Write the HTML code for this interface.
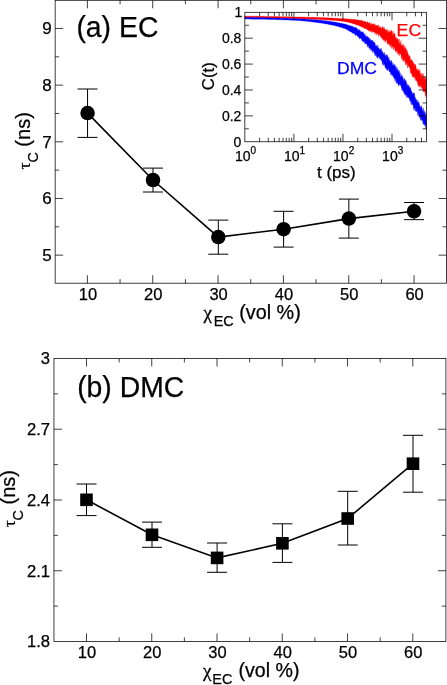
<!DOCTYPE html>
<html><head><meta charset="utf-8"><title>Figure</title>
<style>html,body{margin:0;padding:0;background:#fff}body{width:447px;height:685px;overflow:hidden}svg{display:block}text{font-family:"Liberation Sans",Arial,Helvetica,sans-serif;fill:#000;stroke:#000;stroke-width:0.25px}</style></head><body>
<svg width="447" height="685" viewBox="0 0 447 685">
<rect width="447" height="685" fill="#fff"/>
<g id="panel-a">
<rect x="55.15" y="0.3" width="391.3" height="282.9" fill="none" stroke="#000" stroke-width="0.75"/>
<path d="M87.4 283.2v-8M87.4 0.3v8M152.73 283.2v-8M152.73 0.3v8M218.07 283.2v-8M218.07 0.3v8M283.4 283.2v-8M283.4 0.3v8M348.74 283.2v-8M348.74 0.3v8M414.07 283.2v-8M414.07 0.3v8M120.07 283.2v-4M120.07 0.3v4M185.4 283.2v-4M185.4 0.3v4M250.74 283.2v-4M250.74 0.3v4M316.07 283.2v-4M316.07 0.3v4M381.4 283.2v-4M381.4 0.3v4M55.15 255.15h8M446.45 255.15h-8M55.15 198.48h8M446.45 198.48h-8M55.15 141.81h8M446.45 141.81h-8M55.15 85.14h8M446.45 85.14h-8M55.15 28.47h8M446.45 28.47h-8M55.15 226.81h4M446.45 226.81h-4M55.15 170.15h4M446.45 170.15h-4M55.15 113.47h4M446.45 113.47h-4M55.15 56.81h4M446.45 56.81h-4" fill="none" stroke="#000" stroke-width="0.75"/>
<text x="87.9" y="299.5" font-size="16.5" text-anchor="middle">10</text>
<text x="153.23" y="299.5" font-size="16.5" text-anchor="middle">20</text>
<text x="218.57" y="299.5" font-size="16.5" text-anchor="middle">30</text>
<text x="283.9" y="299.5" font-size="16.5" text-anchor="middle">40</text>
<text x="349.24" y="299.5" font-size="16.5" text-anchor="middle">50</text>
<text x="414.57" y="299.5" font-size="16.5" text-anchor="middle">60</text>
<text x="51.8" y="261.15" font-size="17" text-anchor="end">5</text>
<text x="51.8" y="204.48" font-size="17" text-anchor="end">6</text>
<text x="51.8" y="147.81" font-size="17" text-anchor="end">7</text>
<text x="51.8" y="91.14" font-size="17" text-anchor="end">8</text>
<text x="51.8" y="34.47" font-size="17" text-anchor="end">9</text>
<path d="M87.55 89V137.4M77.55 89h20M77.55 137.4h20M153 168.1V192M143 168.1h20M143 192h20M218.3 220.1V254.2M208.3 220.1h20M208.3 254.2h20M283.6 211.3V247.1M273.6 211.3h20M273.6 247.1h20M348.85 199.1V238.1M338.85 199.1h20M338.85 238.1h20M414.05 202.5V219.65M404.05 202.5h20M404.05 219.65h20" fill="none" stroke="#000" stroke-width="1"/>
<polyline points="87.55,113.1 153,180 218.3,237.1 283.6,229.2 348.85,218.6 414.05,211.25" fill="none" stroke="#000" stroke-width="1.6"/>
<circle cx="87.55" cy="113.1" r="7.25" fill="#000"/>
<circle cx="153" cy="180" r="7.25" fill="#000"/>
<circle cx="218.3" cy="237.1" r="7.25" fill="#000"/>
<circle cx="283.6" cy="229.2" r="7.25" fill="#000"/>
<circle cx="348.85" cy="218.6" r="7.25" fill="#000"/>
<circle cx="414.05" cy="211.25" r="7.25" fill="#000"/>
<text x="76.4" y="37.4" font-size="29" textLength="82" lengthAdjust="spacingAndGlyphs">(a) EC</text>
<text transform="translate(30.2,170.5) rotate(-90)" font-size="20"><tspan x="1.0" font-size="17.5" style="font-family:'Liberation Serif',serif">τ</tspan><tspan x="7.9" font-size="14.4" dy="7.6">C</tspan><tspan dy="-7.6"> (ns)</tspan></text>
<text x="203.4" y="318.6" font-size="20"><tspan font-size="19" stroke="#000" stroke-width="0.3" style="font-family:'Liberation Serif',serif">χ</tspan><tspan x="213.7" font-size="14.4" dy="7.8">EC</tspan><tspan dy="-7.6" font-size="19.8"> (vol %)</tspan></text>
</g>
<g id="inset">
<polygon points="244.85,16.1 245.2,16.11 245.55,16.11 245.9,16.12 246.25,16.12 246.6,16.12 246.95,16.13 247.3,16.13 247.65,16.14 248,16.14 248.35,16.15 248.7,16.15 249.05,16.15 249.4,16.16 249.75,16.16 250.1,16.17 250.45,16.17 250.8,16.18 251.15,16.18 251.5,16.19 251.85,16.19 252.2,16.2 252.55,16.2 252.9,16.2 253.25,16.21 253.6,16.21 253.95,16.22 254.3,16.22 254.65,16.23 255,16.23 255.35,16.24 255.7,16.24 256.05,16.25 256.4,16.25 256.75,16.26 257.1,16.26 257.45,16.27 257.8,16.27 258.15,16.28 258.5,16.28 258.85,16.29 259.2,16.29 259.55,16.3 259.9,16.3 260.25,16.31 260.6,16.31 260.95,16.32 261.3,16.33 261.65,16.33 262,16.34 262.35,16.34 262.7,16.35 263.05,16.35 263.4,16.36 263.75,16.36 264.1,16.37 264.45,16.37 264.8,16.38 265.15,16.39 265.5,16.39 265.85,16.4 266.2,16.4 266.55,16.41 266.9,16.41 267.25,16.42 267.6,16.42 267.95,16.43 268.3,16.44 268.65,16.44 269,16.45 269.35,16.45 269.7,16.46 270.05,16.46 270.4,16.47 270.75,16.48 271.1,16.48 271.45,16.49 271.8,16.49 272.15,16.5 272.5,16.51 272.85,16.51 273.2,16.52 273.55,16.52 273.9,16.53 274.25,16.54 274.6,16.54 274.95,16.55 275.3,16.55 275.65,16.56 276,16.57 276.35,16.57 276.7,16.58 277.05,16.58 277.4,16.59 277.75,16.6 278.1,16.6 278.45,16.61 278.8,16.62 279.15,16.62 279.5,16.63 279.85,16.63 280.2,16.64 280.55,16.65 280.9,16.65 281.25,16.66 281.6,16.67 281.95,16.67 282.3,16.68 282.65,16.69 283,16.69 283.35,16.7 283.7,16.7 284.05,16.71 284.4,16.72 284.75,16.72 285.1,16.73 285.45,16.74 285.8,16.74 286.15,16.75 286.5,16.76 286.85,16.76 287.2,16.77 287.55,16.78 287.9,16.78 288.25,16.79 288.6,16.8 288.95,16.8 289.3,16.81 289.65,16.82 290,16.82 290.35,16.83 290.7,16.84 291.05,16.84 291.4,16.85 291.75,16.86 292.1,16.86 292.45,16.87 292.8,16.88 293.15,16.88 293.5,16.89 293.85,16.9 294.2,16.9 294.55,16.91 294.9,16.92 295.25,16.92 295.6,16.93 295.95,16.94 296.3,16.94 296.65,16.95 297,16.96 297.35,16.96 297.7,16.97 298.05,16.98 298.4,16.99 298.75,16.99 299.1,17 299.45,17.01 299.8,17.01 300.15,17.02 300.5,17.03 300.85,17.03 301.2,17.04 301.55,17.05 301.9,17.05 302.25,17.06 302.6,17.07 302.95,17.08 303.3,17.08 303.65,17.09 304,17.1 304.35,17.11 304.7,17.11 305.05,17.12 305.4,17.13 305.75,17.14 306.1,17.14 306.45,17.15 306.8,17.16 307.15,17.17 307.5,17.17 307.85,17.18 308.2,17.19 308.55,17.2 308.9,17.21 309.25,17.22 309.6,17.22 309.95,17.23 310.3,17.24 310.65,17.25 311,17.26 311.35,17.27 311.7,17.27 312.05,17.29 312.4,17.29 312.75,17.3 313.1,17.31 313.45,17.32 313.8,17.32 314.15,17.34 314.5,17.35 314.85,17.35 315.2,17.36 315.55,17.38 315.9,17.38 316.25,17.39 316.6,17.4 316.95,17.42 317.3,17.43 317.65,17.44 318,17.44 318.35,17.46 318.7,17.46 319.05,17.48 319.4,17.49 319.75,17.49 320.1,17.51 320.45,17.52 320.8,17.53 321.15,17.54 321.5,17.55 321.85,17.57 322.2,17.58 322.55,17.6 322.9,17.62 323.25,17.62 323.6,17.64 323.95,17.65 324.3,17.65 324.65,17.68 325,17.69 325.35,17.71 325.7,17.71 326.05,17.73 326.4,17.76 326.75,17.76 327.1,17.78 327.45,17.81 327.8,17.81 328.15,17.82 328.5,17.85 328.85,17.86 329.2,17.88 329.55,17.88 329.9,17.91 330.25,17.91 330.6,17.94 330.95,17.97 331.3,17.97 331.65,17.99 332,18.03 332.35,18.05 332.7,18.05 333.05,18.08 333.4,18.09 333.75,18.11 334.1,18.14 334.45,18.13 334.8,18.18 335.15,18.16 335.5,18.22 335.85,18.23 336.2,18.24 336.55,18.27 336.9,18.28 337.25,18.31 337.6,18.3 337.95,18.34 338.3,18.38 338.65,18.4 339,18.38 339.35,18.41 339.7,18.46 340.05,18.45 340.4,18.45 340.75,18.52 341.1,18.52 341.45,18.56 341.8,18.56 342.15,18.59 342.5,18.6 342.85,18.61 343.2,18.68 343.55,18.69 343.9,18.72 344.25,18.75 344.6,18.71 344.95,18.8 345.3,18.82 345.65,18.8 346,18.83 346.35,18.8 346.7,18.9 347.05,18.84 347.4,18.92 347.75,18.88 348.1,18.89 348.45,19 348.8,19.01 349.15,19.07 349.5,19.12 349.85,19.2 350.2,19.01 350.55,19.17 350.9,19.19 351.25,19.24 351.6,19.24 351.95,19.28 352.3,19.42 352.65,19.31 353,19.37 353.35,19.47 353.7,19.25 354.05,19.43 354.4,19.32 354.75,19.36 355.1,19.32 355.45,19.46 355.8,19.5 356.15,19.71 356.5,19.79 356.85,20 357.2,19.83 357.55,20.16 357.9,19.86 358.25,20.17 358.6,20.08 358.95,20.19 359.3,19.95 359.65,20.59 360,20.51 360.35,19.98 360.7,20.43 361.05,20.98 361.4,20.08 361.75,20.43 362.1,21.02 362.45,20.3 362.8,21.25 363.15,21.16 363.5,21.48 363.85,21.36 364.2,22.03 364.55,21.32 364.9,21.77 365.25,21.1 365.6,21.99 365.95,21.9 366.3,22.96 366.65,23.03 367,21.74 367.35,21.67 367.7,21.91 368.05,22.14 368.4,23.29 368.75,23.05 369.1,23.15 369.45,23.12 369.8,22.24 370.15,23.19 370.5,24.67 370.85,24.4 371.2,23.95 371.55,23.16 371.9,25.06 372.25,23.95 372.6,24.57 372.95,23.6 373.3,24.04 373.65,24.21 374,24.46 374.35,23.52 374.7,25.49 375.05,24.16 375.4,25.6 375.75,25.8 376.1,26.19 376.45,25.02 376.8,25.14 377.15,26.81 377.5,25.7 377.85,25.02 378.2,27.74 378.55,24.76 378.9,27.97 379.25,25.99 379.6,26.44 379.95,28.75 380.3,26.9 380.65,28.08 381,27.06 381.35,29.13 381.7,28.52 382.05,27.72 382.4,26.26 382.75,27.52 383.1,28.17 383.45,27.44 383.8,28.64 384.15,27.38 384.5,28.76 384.85,29.06 385.2,29.86 385.55,30.35 385.9,30.45 386.25,29.19 386.6,29.5 386.95,31.67 387.3,29.38 387.65,31.39 388,32.85 388.35,32.71 388.7,31.01 389.05,29.95 389.4,31.78 389.75,32.3 390.1,31.69 390.45,30.91 390.8,31.73 391.15,29.93 391.5,31.28 391.85,30.7 392.2,33.8 392.55,35.7 392.9,31.57 393.25,31.19 393.6,35.5 393.95,33.74 394.3,34.98 394.65,32.96 395,34.03 395.35,37.28 395.7,37.23 396.05,38.99 396.4,40.01 396.75,37.21 397.1,39.02 397.45,38.52 397.8,39.24 398.15,39.06 398.5,42.57 398.85,41.12 399.2,39 399.55,42.36 399.9,44.2 400.25,44.26 400.6,42.92 400.95,40.5 401.3,45.1 401.65,46.21 402,45.62 402.35,44.48 402.7,44.69 403.05,47.06 403.4,44.2 403.75,48.23 404.1,47.21 404.45,45.46 404.8,49.9 405.15,48.16 405.5,47.18 405.85,48.06 406.2,52.17 406.55,49.14 406.9,52.89 407.25,53.59 407.6,50.5 407.95,52.95 408.3,55.42 408.65,54.57 409,57.18 409.35,55.41 409.7,57.37 410.05,55.99 410.4,59.85 410.75,60.53 411.1,59.86 411.45,59.33 411.8,60.13 412.15,62 412.5,60.33 412.85,62.82 413.2,62.34 413.55,63.12 413.9,63.54 414.25,66.6 414.6,63.8 414.95,64.58 415.3,64.68 415.65,64.37 416,66.89 416.35,69.47 416.7,70.22 417.05,68.51 417.4,68.59 417.75,71.35 418.1,70 418.45,70.53 418.8,71.49 419.15,68.89 419.5,73.38 419.85,69.88 420.2,72.63 420.55,75.23 420.9,73.63 421.25,72.94 421.6,75.51 421.95,76.93 422.3,75.81 422.65,73.13 423,78.19 423.35,73.79 423.7,77.97 424.05,79.69 424.4,75.9 424.75,78.48 425.1,79.95 425.45,77.33 425.8,78.18 426.15,77.58 426.4,78.43 426.4,93.12 426.15,94.64 425.8,95.79 425.45,96.56 425.1,92.95 424.75,90.84 424.4,91.98 424.05,89.52 423.7,92.3 423.35,90.54 423,91.22 422.65,88.07 422.3,88.7 421.95,86.24 421.6,85.92 421.25,88.79 420.9,87.52 420.55,86.97 420.2,85.06 419.85,85.09 419.5,87.03 419.15,85.76 418.8,86.61 418.45,85.16 418.1,85.55 417.75,83.69 417.4,82.77 417.05,80.64 416.7,80.01 416.35,81.3 416,80.75 415.65,80.45 415.3,77.12 414.95,79.41 414.6,76.56 414.25,76.97 413.9,76.87 413.55,77.55 413.2,76.88 412.85,76.56 412.5,76.73 412.15,76.55 411.8,74.26 411.45,72.58 411.1,73.62 410.75,73.56 410.4,72.33 410.05,67.99 409.7,68.32 409.35,67 409,66.78 408.65,65.46 408.3,66.22 407.95,67.73 407.6,67.9 407.25,64.33 406.9,64.85 406.55,62.02 406.2,64.76 405.85,61.05 405.5,64.97 405.15,63.31 404.8,59.1 404.45,61.29 404.1,58.51 403.75,61.83 403.4,59.86 403.05,58.63 402.7,60.88 402.35,58.94 402,55.8 401.65,59 401.3,58.21 400.95,54.17 400.6,54.11 400.25,54.5 399.9,53.15 399.55,54.1 399.2,56.05 398.85,52.81 398.5,53.29 398.15,54.5 397.8,54.57 397.45,52.27 397.1,50.49 396.75,50.37 396.4,52.69 396.05,49.89 395.7,51.65 395.35,50.81 395,50.99 394.65,47.71 394.3,47.15 393.95,46.86 393.6,49.55 393.25,49.35 392.9,48.7 392.55,46 392.2,46.49 391.85,45.86 391.5,48.58 391.15,43.51 390.8,45.09 390.45,47.2 390.1,46.6 389.75,45.25 389.4,45.02 389.05,43.29 388.7,43.71 388.35,44.44 388,43.43 387.65,42.09 387.3,44.7 386.95,41.33 386.6,40.36 386.25,40.05 385.9,41.66 385.55,38.91 385.2,42.48 384.85,38.81 384.5,40.85 384.15,40.67 383.8,38.73 383.45,40.48 383.1,40.22 382.75,39.28 382.4,38.86 382.05,37.68 381.7,36.19 381.35,38.54 381,37.61 380.65,36.46 380.3,36.36 379.95,35.33 379.6,34.39 379.25,34.17 378.9,35.44 378.55,36.41 378.2,33.73 377.85,34.46 377.5,33.36 377.15,33.16 376.8,32.95 376.45,35 376.1,33.47 375.75,32.26 375.4,32.76 375.05,34.43 374.7,33.22 374.35,31.98 374,32.03 373.65,31.69 373.3,31.48 372.95,32.18 372.6,31.23 372.25,32.2 371.9,32.58 371.55,31.77 371.2,30.39 370.85,30.25 370.5,31.7 370.15,31.75 369.8,31.51 369.45,30.21 369.1,31.11 368.75,30.98 368.4,30.4 368.05,29.8 367.7,29.94 367.35,30.04 367,29.23 366.65,28.77 366.3,29.16 365.95,29.23 365.6,28.12 365.25,28.62 364.9,27.69 364.55,28.38 364.2,28.65 363.85,28.5 363.5,27.06 363.15,26.89 362.8,27.74 362.45,27.18 362.1,26.98 361.75,26.9 361.4,26.29 361.05,26.95 360.7,26.38 360.35,26.12 360,26.02 359.65,25.68 359.3,26.12 358.95,26 358.6,25.49 358.25,25.1 357.9,25.29 357.55,25.16 357.2,24.87 356.85,24.7 356.5,24.93 356.15,24.66 355.8,24.56 355.45,24.25 355.1,24.15 354.75,24.12 354.4,24.26 354.05,23.79 353.7,23.94 353.35,23.65 353,23.75 352.65,23.5 352.3,23.52 351.95,23.28 351.6,23.3 351.25,23.06 350.9,23 350.55,22.93 350.2,22.76 349.85,22.78 349.5,22.63 349.15,22.48 348.8,22.45 348.45,22.42 348.1,22.22 347.75,22.14 347.4,22.18 347.05,22.06 346.7,22 346.35,21.97 346,21.87 345.65,21.79 345.3,21.7 344.95,21.63 344.6,21.55 344.25,21.51 343.9,21.52 343.55,21.39 343.2,21.41 342.85,21.36 342.5,21.26 342.15,21.24 341.8,21.19 341.45,21.19 341.1,21.14 340.75,21.08 340.4,21.07 340.05,21.05 339.7,21 339.35,20.95 339,20.93 338.65,20.86 338.3,20.85 337.95,20.79 337.6,20.79 337.25,20.73 336.9,20.7 336.55,20.66 336.2,20.66 335.85,20.61 335.5,20.56 335.15,20.56 334.8,20.52 334.45,20.49 334.1,20.46 333.75,20.42 333.4,20.4 333.05,20.37 332.7,20.35 332.35,20.34 332,20.29 331.65,20.27 331.3,20.25 330.95,20.24 330.6,20.19 330.25,20.17 329.9,20.16 329.55,20.13 329.2,20.1 328.85,20.1 328.5,20.06 328.15,20.03 327.8,20.01 327.45,20.01 327.1,19.97 326.75,19.96 326.4,19.93 326.05,19.92 325.7,19.89 325.35,19.87 325,19.85 324.65,19.84 324.3,19.81 323.95,19.8 323.6,19.77 323.25,19.75 322.9,19.74 322.55,19.72 322.2,19.71 321.85,19.69 321.5,19.67 321.15,19.66 320.8,19.63 320.45,19.62 320.1,19.59 319.75,19.57 319.4,19.56 319.05,19.55 318.7,19.53 318.35,19.51 318,19.49 317.65,19.48 317.3,19.46 316.95,19.44 316.6,19.42 316.25,19.41 315.9,19.4 315.55,19.37 315.2,19.36 314.85,19.34 314.5,19.33 314.15,19.31 313.8,19.3 313.45,19.28 313.1,19.26 312.75,19.25 312.4,19.23 312.05,19.22 311.7,19.21 311.35,19.19 311,19.18 310.65,19.16 310.3,19.15 309.95,19.13 309.6,19.12 309.25,19.1 308.9,19.09 308.55,19.08 308.2,19.07 307.85,19.05 307.5,19.04 307.15,19.02 306.8,19.01 306.45,19 306.1,18.99 305.75,18.97 305.4,18.96 305.05,18.95 304.7,18.94 304.35,18.92 304,18.91 303.65,18.9 303.3,18.89 302.95,18.87 302.6,18.86 302.25,18.85 301.9,18.84 301.55,18.83 301.2,18.82 300.85,18.8 300.5,18.79 300.15,18.78 299.8,18.77 299.45,18.76 299.1,18.75 298.75,18.74 298.4,18.73 298.05,18.72 297.7,18.71 297.35,18.7 297,18.69 296.65,18.68 296.3,18.66 295.95,18.65 295.6,18.64 295.25,18.63 294.9,18.62 294.55,18.62 294.2,18.61 293.85,18.6 293.5,18.59 293.15,18.58 292.8,18.57 292.45,18.56 292.1,18.55 291.75,18.54 291.4,18.53 291.05,18.52 290.7,18.51 290.35,18.5 290,18.49 289.65,18.48 289.3,18.47 288.95,18.46 288.6,18.45 288.25,18.44 287.9,18.44 287.55,18.43 287.2,18.42 286.85,18.41 286.5,18.4 286.15,18.39 285.8,18.38 285.45,18.37 285.1,18.36 284.75,18.35 284.4,18.34 284.05,18.33 283.7,18.32 283.35,18.32 283,18.31 282.65,18.3 282.3,18.29 281.95,18.28 281.6,18.27 281.25,18.26 280.9,18.25 280.55,18.24 280.2,18.24 279.85,18.23 279.5,18.22 279.15,18.21 278.8,18.2 278.45,18.19 278.1,18.18 277.75,18.18 277.4,18.17 277.05,18.16 276.7,18.15 276.35,18.14 276,18.13 275.65,18.13 275.3,18.12 274.95,18.11 274.6,18.1 274.25,18.09 273.9,18.08 273.55,18.08 273.2,18.07 272.85,18.06 272.5,18.05 272.15,18.04 271.8,18.04 271.45,18.03 271.1,18.02 270.75,18.01 270.4,18.01 270.05,18 269.7,17.99 269.35,17.98 269,17.98 268.65,17.97 268.3,17.96 267.95,17.95 267.6,17.95 267.25,17.94 266.9,17.93 266.55,17.92 266.2,17.92 265.85,17.91 265.5,17.9 265.15,17.9 264.8,17.89 264.45,17.88 264.1,17.88 263.75,17.87 263.4,17.86 263.05,17.86 262.7,17.85 262.35,17.84 262,17.84 261.65,17.83 261.3,17.82 260.95,17.82 260.6,17.81 260.25,17.81 259.9,17.8 259.55,17.79 259.2,17.79 258.85,17.78 258.5,17.78 258.15,17.77 257.8,17.76 257.45,17.76 257.1,17.75 256.75,17.75 256.4,17.74 256.05,17.74 255.7,17.73 255.35,17.73 255,17.72 254.65,17.72 254.3,17.71 253.95,17.71 253.6,17.7 253.25,17.7 252.9,17.69 252.55,17.69 252.2,17.68 251.85,17.68 251.5,17.67 251.15,17.67 250.8,17.66 250.45,17.66 250.1,17.66 249.75,17.65 249.4,17.65 249.05,17.64 248.7,17.64 248.35,17.64 248,17.63 247.65,17.63 247.3,17.62 246.95,17.62 246.6,17.62 246.25,17.61 245.9,17.61 245.55,17.61 245.2,17.61 244.85,17.6" fill="#f00" stroke="#f00" stroke-width="0.3" stroke-linejoin="round"/>
<polygon points="244.85,17.5 245.2,17.5 245.55,17.5 245.9,17.5 246.25,17.5 246.6,17.5 246.95,17.5 247.3,17.5 247.65,17.51 248,17.51 248.35,17.51 248.7,17.51 249.05,17.51 249.4,17.51 249.75,17.52 250.1,17.52 250.45,17.52 250.8,17.52 251.15,17.53 251.5,17.53 251.85,17.53 252.2,17.54 252.55,17.54 252.9,17.54 253.25,17.55 253.6,17.55 253.95,17.55 254.3,17.56 254.65,17.56 255,17.57 255.35,17.57 255.7,17.58 256.05,17.58 256.4,17.58 256.75,17.59 257.1,17.59 257.45,17.6 257.8,17.6 258.15,17.61 258.5,17.62 258.85,17.62 259.2,17.63 259.55,17.63 259.9,17.64 260.25,17.64 260.6,17.65 260.95,17.66 261.3,17.66 261.65,17.67 262,17.68 262.35,17.68 262.7,17.69 263.05,17.7 263.4,17.7 263.75,17.71 264.1,17.72 264.45,17.73 264.8,17.73 265.15,17.74 265.5,17.75 265.85,17.76 266.2,17.76 266.55,17.77 266.9,17.78 267.25,17.79 267.6,17.8 267.95,17.8 268.3,17.81 268.65,17.82 269,17.83 269.35,17.84 269.7,17.85 270.05,17.86 270.4,17.87 270.75,17.87 271.1,17.88 271.45,17.89 271.8,17.9 272.15,17.91 272.5,17.92 272.85,17.93 273.2,17.94 273.55,17.95 273.9,17.96 274.25,17.97 274.6,17.98 274.95,17.99 275.3,18 275.65,18.01 276,18.02 276.35,18.03 276.7,18.04 277.05,18.05 277.4,18.06 277.75,18.07 278.1,18.08 278.45,18.09 278.8,18.1 279.15,18.11 279.5,18.12 279.85,18.13 280.2,18.14 280.55,18.15 280.9,18.17 281.25,18.18 281.6,18.19 281.95,18.2 282.3,18.21 282.65,18.22 283,18.23 283.35,18.24 283.7,18.25 284.05,18.27 284.4,18.28 284.75,18.29 285.1,18.3 285.45,18.31 285.8,18.32 286.15,18.33 286.5,18.35 286.85,18.36 287.2,18.37 287.55,18.38 287.9,18.39 288.25,18.4 288.6,18.42 288.95,18.43 289.3,18.44 289.65,18.45 290,18.46 290.35,18.48 290.7,18.49 291.05,18.5 291.4,18.51 291.75,18.52 292.1,18.53 292.45,18.55 292.8,18.56 293.15,18.57 293.5,18.58 293.85,18.59 294.2,18.61 294.55,18.62 294.9,18.63 295.25,18.64 295.6,18.66 295.95,18.67 296.3,18.68 296.65,18.7 297,18.71 297.35,18.73 297.7,18.74 298.05,18.76 298.4,18.77 298.75,18.79 299.1,18.8 299.45,18.82 299.8,18.84 300.15,18.85 300.5,18.87 300.85,18.89 301.2,18.91 301.55,18.92 301.9,18.94 302.25,18.96 302.6,18.98 302.95,19 303.3,19.02 303.65,19.04 304,19.06 304.35,19.08 304.7,19.1 305.05,19.11 305.4,19.14 305.75,19.16 306.1,19.18 306.45,19.2 306.8,19.22 307.15,19.25 307.5,19.27 307.85,19.29 308.2,19.31 308.55,19.33 308.9,19.36 309.25,19.39 309.6,19.41 309.95,19.45 310.3,19.46 310.65,19.49 311,19.51 311.35,19.54 311.7,19.56 312.05,19.59 312.4,19.62 312.75,19.63 313.1,19.68 313.45,19.7 313.8,19.71 314.15,19.73 314.5,19.75 314.85,19.79 315.2,19.8 315.55,19.84 315.9,19.86 316.25,19.9 316.6,19.94 316.95,19.98 317.3,20.02 317.65,20.04 318,20.04 318.35,20.12 318.7,20.14 319.05,20.15 319.4,20.2 319.75,20.22 320.1,20.22 320.45,20.29 320.8,20.35 321.15,20.37 321.5,20.35 321.85,20.38 322.2,20.49 322.55,20.52 322.9,20.54 323.25,20.58 323.6,20.56 323.95,20.66 324.3,20.64 324.65,20.67 325,20.74 325.35,20.73 325.7,20.87 326.05,20.83 326.4,20.94 326.75,20.96 327.1,21.03 327.45,21.05 327.8,21.15 328.15,21.11 328.5,21.18 328.85,21.2 329.2,21.3 329.55,21.29 329.9,21.41 330.25,21.35 330.6,21.42 330.95,21.5 331.3,21.5 331.65,21.57 332,21.73 332.35,21.7 332.7,21.72 333.05,21.89 333.4,21.9 333.75,21.97 334.1,22.07 334.45,22.1 334.8,22.06 335.15,22.07 335.5,22.24 335.85,22.34 336.2,22.42 336.55,22.34 336.9,22.51 337.25,22.65 337.6,22.54 337.95,22.61 338.3,22.71 338.65,22.82 339,23 339.35,22.96 339.7,23.12 340.05,23.12 340.4,23.13 340.75,23.15 341.1,23.24 341.45,23.45 341.8,23.32 342.15,23.38 342.5,23.48 342.85,23.72 343.2,23.69 343.55,23.7 343.9,23.83 344.25,23.8 344.6,24.04 344.95,24.29 345.3,24.22 345.65,24.31 346,24.18 346.35,24.4 346.7,24.38 347.05,24.46 347.4,25.05 347.75,25.07 348.1,25.26 348.45,24.9 348.8,25.17 349.15,25.7 349.5,25.45 349.85,25.98 350.2,26.15 350.55,25.42 350.9,25.94 351.25,26.22 351.6,26.11 351.95,26.28 352.3,26.39 352.65,26.38 353,26.26 353.35,27.29 353.7,27.8 354.05,26.66 354.4,27.97 354.75,27.69 355.1,27.04 355.45,27.26 355.8,28.16 356.15,27.62 356.5,28.11 356.85,28.24 357.2,29.73 357.55,28.96 357.9,28.77 358.25,30.31 358.6,30.6 358.95,30.28 359.3,29.17 359.65,31.1 360,30.26 360.35,31.32 360.7,31.41 361.05,31.5 361.4,32.07 361.75,32.49 362.1,31.83 362.45,32.19 362.8,31.39 363.15,32.49 363.5,34.36 363.85,32.68 364.2,34.64 364.55,35.18 364.9,33.57 365.25,35.76 365.6,35.75 365.95,37.15 366.3,35.5 366.65,37.07 367,37.68 367.35,36.4 367.7,36.17 368.05,36.97 368.4,38.28 368.75,37.2 369.1,39.64 369.45,37.94 369.8,39.94 370.15,38.65 370.5,39.63 370.85,41.3 371.2,40.19 371.55,41.02 371.9,40.3 372.25,41.08 372.6,39.88 372.95,41.92 373.3,41.98 373.65,41.73 374,41.58 374.35,42.54 374.7,42.7 375.05,43.29 375.4,45.35 375.75,46.03 376.1,46.45 376.45,44.86 376.8,47.09 377.15,46.21 377.5,48.19 377.85,45.06 378.2,47.95 378.55,47.63 378.9,47.69 379.25,49.05 379.6,49.73 379.95,50.09 380.3,48.45 380.65,48.97 381,50.24 381.35,48.29 381.7,51.93 382.05,51.34 382.4,51.11 382.75,52.34 383.1,54.1 383.45,53.84 383.8,53.59 384.15,52.01 384.5,55.79 384.85,53.59 385.2,56.31 385.55,54.9 385.9,56.09 386.25,57.48 386.6,54.1 386.95,55.59 387.3,55.46 387.65,55.26 388,57.04 388.35,60.15 388.7,57.46 389.05,57.22 389.4,61.57 389.75,59.88 390.1,60.2 390.45,61.67 390.8,62.73 391.15,60.33 391.5,60.65 391.85,62.17 392.2,64.66 392.55,65.5 392.9,62.37 393.25,65.26 393.6,64.54 393.95,67.11 394.3,64.74 394.65,65.09 395,64.36 395.35,68.97 395.7,66.02 396.05,67.06 396.4,67.39 396.75,71.16 397.1,67.59 397.45,69.32 397.8,71.47 398.15,69.5 398.5,71.98 398.85,71.76 399.2,70.3 399.55,73.64 399.9,72.92 400.25,72.79 400.6,76.92 400.95,76.79 401.3,75.47 401.65,75.39 402,74.47 402.35,78.33 402.7,76.7 403.05,78.36 403.4,79.42 403.75,80.53 404.1,78.29 404.45,78.51 404.8,82.19 405.15,79.37 405.5,81.54 405.85,80.35 406.2,81.66 406.55,82.1 406.9,85.63 407.25,85.71 407.6,83.92 407.95,86.04 408.3,86.14 408.65,84.79 409,86.57 409.35,88.94 409.7,86.56 410.05,87.62 410.4,88.71 410.75,87.58 411.1,91.77 411.45,90.52 411.8,92.23 412.15,92.24 412.5,94 412.85,93.98 413.2,93.29 413.55,92.52 413.9,94.52 414.25,93.06 414.6,93.98 414.95,98.18 415.3,97.24 415.65,99.13 416,99.46 416.35,99.02 416.7,100.56 417.05,102.19 417.4,102.79 417.75,100.02 418.1,103.76 418.45,102.23 418.8,101.54 419.15,103.09 419.5,104.51 419.85,106.56 420.2,107.2 420.55,106.11 420.9,107.89 421.25,107.11 421.6,105.56 421.95,107.79 422.3,109.66 422.65,110.5 423,110.7 423.35,107.93 423.7,111.86 424.05,113.92 424.4,110.67 424.75,113.74 425.1,111.72 425.45,115.15 425.8,116.58 426.15,113.46 426.4,117.03 426.4,129.15 426.15,128.48 425.8,128.57 425.45,126.1 425.1,124.42 424.75,123.92 424.4,125.68 424.05,123.37 423.7,124.56 423.35,122.11 423,124.27 422.65,120.83 422.3,120.75 421.95,120.04 421.6,120.27 421.25,118.49 420.9,120.59 420.55,120.09 420.2,115.62 419.85,118.23 419.5,116.54 419.15,116.51 418.8,115.18 418.45,114.05 418.1,113.03 417.75,115.82 417.4,110.75 417.05,110.91 416.7,112.11 416.35,111.7 416,109.46 415.65,111.41 415.3,107.29 414.95,110.88 414.6,108.26 414.25,107.81 413.9,109.62 413.55,108.96 413.2,105.45 412.85,104.52 412.5,103.59 412.15,105.32 411.8,102.07 411.45,102.47 411.1,104.83 410.75,102.4 410.4,100.46 410.05,100.62 409.7,100.87 409.35,98.66 409,97.67 408.65,96.73 408.3,98.1 407.95,97.63 407.6,96.47 407.25,96.61 406.9,97.67 406.55,96.8 406.2,94.87 405.85,94.12 405.5,95.15 405.15,95.37 404.8,94.64 404.45,94.29 404.1,92.39 403.75,89.85 403.4,92.56 403.05,90.84 402.7,89.3 402.35,90.81 402,90.67 401.65,88.1 401.3,87.42 400.95,85.89 400.6,84.85 400.25,85.45 399.9,83.66 399.55,84.52 399.2,83.98 398.85,86.26 398.5,84.68 398.15,84.95 397.8,82.81 397.45,81.9 397.1,83.9 396.75,83.73 396.4,80.37 396.05,82.71 395.7,78.53 395.35,79.25 395,81.31 394.65,78.68 394.3,78.81 393.95,77.38 393.6,75.9 393.25,77.55 392.9,74.01 392.55,75.61 392.2,76.04 391.85,73.58 391.5,74.26 391.15,75.23 390.8,74.81 390.45,72.92 390.1,71.93 389.75,71.1 389.4,71.79 389.05,71.69 388.7,69.59 388.35,68.85 388,68.7 387.65,70.97 387.3,70.08 386.95,68.73 386.6,69.86 386.25,67.34 385.9,68.7 385.55,67.95 385.2,67.53 384.85,66.15 384.5,63.71 384.15,64.66 383.8,63.81 383.45,65.52 383.1,61.81 382.75,64.82 382.4,63.93 382.05,61.68 381.7,59.41 381.35,61.04 381,59.4 380.65,59.4 380.3,57.99 379.95,59.13 379.6,58.6 379.25,56.77 378.9,56.9 378.55,57.32 378.2,55.67 377.85,58.81 377.5,55.59 377.15,57.96 376.8,55.15 376.45,56.93 376.1,53.74 375.75,55.88 375.4,52.99 375.05,55.67 374.7,54.47 374.35,53.2 374,50.9 373.65,52.32 373.3,51.32 372.95,49.75 372.6,52.84 372.25,50.65 371.9,48.74 371.55,49.63 371.2,50.96 370.85,48.72 370.5,47.96 370.15,50.01 369.8,48.56 369.45,47.88 369.1,48.3 368.75,47.38 368.4,46.07 368.05,45.61 367.7,45.05 367.35,47.15 367,44.68 366.65,43.82 366.3,43.72 365.95,42.56 365.6,44.12 365.25,43.55 364.9,44.12 364.55,41.83 364.2,42.07 363.85,40.73 363.5,42.16 363.15,42 362.8,40.66 362.45,41.35 362.1,39.53 361.75,40.67 361.4,39.19 361.05,38.07 360.7,38.28 360.35,38.14 360,39.02 359.65,38.96 359.3,37.72 358.95,37.55 358.6,37.33 358.25,36.64 357.9,35.71 357.55,36.52 357.2,36.07 356.85,34.99 356.5,35.06 356.15,34.6 355.8,35.65 355.45,35.4 355.1,34.01 354.75,34.21 354.4,33.91 354.05,33.47 353.7,33.61 353.35,33.53 353,32.84 352.65,32.87 352.3,33.2 351.95,32.89 351.6,32.25 351.25,31.69 350.9,31.98 350.55,31.63 350.2,31.77 349.85,31.42 349.5,31.12 349.15,31.16 348.8,30.59 348.45,30.59 348.1,30.42 347.75,30.16 347.4,29.85 347.05,29.48 346.7,29.69 346.35,29.25 346,28.97 345.65,28.96 345.3,28.69 344.95,28.72 344.6,28.51 344.25,28.27 343.9,28.17 343.55,28.29 343.2,28.2 342.85,27.89 342.5,27.71 342.15,27.77 341.8,27.58 341.45,27.37 341.1,27.48 340.75,27.42 340.4,27.12 340.05,27.14 339.7,26.93 339.35,27.03 339,26.83 338.65,26.59 338.3,26.69 337.95,26.55 337.6,26.36 337.25,26.26 336.9,26.24 336.55,26.17 336.2,25.93 335.85,25.9 335.5,25.76 335.15,25.79 334.8,25.68 334.45,25.57 334.1,25.56 333.75,25.41 333.4,25.41 333.05,25.27 332.7,25.12 332.35,25.2 332,25.1 331.65,25.05 331.3,24.93 330.95,24.89 330.6,24.77 330.25,24.73 329.9,24.63 329.55,24.55 329.2,24.46 328.85,24.41 328.5,24.4 328.15,24.29 327.8,24.22 327.45,24.12 327.1,24.1 326.75,24.06 326.4,23.91 326.05,23.94 325.7,23.89 325.35,23.78 325,23.73 324.65,23.67 324.3,23.63 323.95,23.56 323.6,23.51 323.25,23.44 322.9,23.37 322.55,23.37 322.2,23.27 321.85,23.25 321.5,23.16 321.15,23.1 320.8,23.05 320.45,23.02 320.1,22.94 319.75,22.94 319.4,22.87 319.05,22.8 318.7,22.78 318.35,22.74 318,22.66 317.65,22.63 317.3,22.59 316.95,22.57 316.6,22.5 316.25,22.42 315.9,22.4 315.55,22.35 315.2,22.28 314.85,22.27 314.5,22.23 314.15,22.17 313.8,22.13 313.45,22.06 313.1,22.04 312.75,21.98 312.4,21.96 312.05,21.92 311.7,21.87 311.35,21.82 311,21.76 310.65,21.73 310.3,21.7 309.95,21.66 309.6,21.59 309.25,21.57 308.9,21.52 308.55,21.49 308.2,21.45 307.85,21.41 307.5,21.36 307.15,21.33 306.8,21.29 306.45,21.25 306.1,21.21 305.75,21.18 305.4,21.15 305.05,21.11 304.7,21.08 304.35,21.04 304,21.01 303.65,20.97 303.3,20.94 302.95,20.91 302.6,20.88 302.25,20.85 301.9,20.81 301.55,20.78 301.2,20.76 300.85,20.73 300.5,20.7 300.15,20.67 299.8,20.65 299.45,20.62 299.1,20.59 298.75,20.57 298.4,20.54 298.05,20.52 297.7,20.5 297.35,20.48 297,20.45 296.65,20.43 296.3,20.41 295.95,20.39 295.6,20.38 295.25,20.36 294.9,20.34 294.55,20.32 294.2,20.31 293.85,20.29 293.5,20.28 293.15,20.26 292.8,20.25 292.45,20.24 292.1,20.22 291.75,20.21 291.4,20.19 291.05,20.18 290.7,20.16 290.35,20.15 290,20.14 289.65,20.12 289.3,20.11 288.95,20.09 288.6,20.08 288.25,20.07 287.9,20.05 287.55,20.04 287.2,20.03 286.85,20.01 286.5,20 286.15,19.99 285.8,19.97 285.45,19.96 285.1,19.95 284.75,19.93 284.4,19.92 284.05,19.91 283.7,19.89 283.35,19.88 283,19.87 282.65,19.86 282.3,19.84 281.95,19.83 281.6,19.82 281.25,19.81 280.9,19.79 280.55,19.78 280.2,19.77 279.85,19.76 279.5,19.75 279.15,19.73 278.8,19.72 278.45,19.71 278.1,19.7 277.75,19.69 277.4,19.68 277.05,19.67 276.7,19.65 276.35,19.64 276,19.63 275.65,19.62 275.3,19.61 274.95,19.6 274.6,19.59 274.25,19.58 273.9,19.57 273.55,19.56 273.2,19.55 272.85,19.54 272.5,19.53 272.15,19.52 271.8,19.51 271.45,19.5 271.1,19.49 270.75,19.48 270.4,19.47 270.05,19.46 269.7,19.45 269.35,19.44 269,19.43 268.65,19.42 268.3,19.41 267.95,19.41 267.6,19.4 267.25,19.39 266.9,19.38 266.55,19.37 266.2,19.36 265.85,19.36 265.5,19.35 265.15,19.34 264.8,19.33 264.45,19.32 264.1,19.32 263.75,19.31 263.4,19.3 263.05,19.3 262.7,19.29 262.35,19.28 262,19.27 261.65,19.27 261.3,19.26 260.95,19.26 260.6,19.25 260.25,19.24 259.9,19.24 259.55,19.23 259.2,19.22 258.85,19.22 258.5,19.21 258.15,19.21 257.8,19.2 257.45,19.2 257.1,19.19 256.75,19.19 256.4,19.18 256.05,19.18 255.7,19.17 255.35,19.17 255,19.16 254.65,19.16 254.3,19.16 253.95,19.15 253.6,19.15 253.25,19.14 252.9,19.14 252.55,19.14 252.2,19.13 251.85,19.13 251.5,19.13 251.15,19.13 250.8,19.12 250.45,19.12 250.1,19.12 249.75,19.12 249.4,19.11 249.05,19.11 248.7,19.11 248.35,19.11 248,19.11 247.65,19.11 247.3,19.1 246.95,19.1 246.6,19.1 246.25,19.1 245.9,19.1 245.55,19.1 245.2,19.1 244.85,19.1" fill="#00f" stroke="#00f" stroke-width="0.3" stroke-linejoin="round"/>
<rect x="244.85" y="12.3" width="181.75" height="129.45" fill="none" stroke="#000" stroke-width="0.75"/>
<path d="M293.9 141.75v-8M293.9 12.3v8M342.95 141.75v-8M342.95 12.3v8M392 141.75v-8M392 12.3v8M259.62 141.75v-4M259.62 12.3v4M268.25 141.75v-4M268.25 12.3v4M274.38 141.75v-4M274.38 12.3v4M279.13 141.75v-4M279.13 12.3v4M283.02 141.75v-4M283.02 12.3v4M286.3 141.75v-4M286.3 12.3v4M289.15 141.75v-4M289.15 12.3v4M291.66 141.75v-4M291.66 12.3v4M308.67 141.75v-4M308.67 12.3v4M317.3 141.75v-4M317.3 12.3v4M323.43 141.75v-4M323.43 12.3v4M328.18 141.75v-4M328.18 12.3v4M332.07 141.75v-4M332.07 12.3v4M335.35 141.75v-4M335.35 12.3v4M338.2 141.75v-4M338.2 12.3v4M340.71 141.75v-4M340.71 12.3v4M357.72 141.75v-4M357.72 12.3v4M366.35 141.75v-4M366.35 12.3v4M372.48 141.75v-4M372.48 12.3v4M377.23 141.75v-4M377.23 12.3v4M381.12 141.75v-4M381.12 12.3v4M384.4 141.75v-4M384.4 12.3v4M387.25 141.75v-4M387.25 12.3v4M389.76 141.75v-4M389.76 12.3v4M406.77 141.75v-4M406.77 12.3v4M415.4 141.75v-4M415.4 12.3v4M421.53 141.75v-4M421.53 12.3v4M244.85 115.86h8M426.6 115.86h-8M244.85 89.97h8M426.6 89.97h-8M244.85 64.08h8M426.6 64.08h-8M244.85 38.19h8M426.6 38.19h-8M244.85 128.81h4M426.6 128.81h-4M244.85 102.92h4M426.6 102.92h-4M244.85 77.03h4M426.6 77.03h-4M244.85 51.14h4M426.6 51.14h-4M244.85 25.25h4M426.6 25.25h-4" fill="none" stroke="#000" stroke-width="0.75"/>
<text x="241.4" y="146.55" font-size="14" text-anchor="end">0</text>
<text x="241.4" y="120.66" font-size="14" text-anchor="end">0.2</text>
<text x="241.4" y="94.77" font-size="14" text-anchor="end">0.4</text>
<text x="241.4" y="68.88" font-size="14" text-anchor="end">0.6</text>
<text x="241.4" y="42.99" font-size="14" text-anchor="end">0.8</text>
<text x="242.4" y="17.1" font-size="14" text-anchor="end">1</text>
<text x="234.95" y="161.4" font-size="14">10<tspan font-size="10" dy="-7.4">0</tspan></text>
<text x="284" y="161.4" font-size="14">10<tspan font-size="10" dy="-7.4">1</tspan></text>
<text x="333.05" y="161.4" font-size="14">10<tspan font-size="10" dy="-7.4">2</tspan></text>
<text x="382.1" y="161.4" font-size="14">10<tspan font-size="10" dy="-7.4">3</tspan></text>
<text x="317.0" y="177.7" font-size="17">t (ps)</text>
<text transform="translate(213.8,90.2) rotate(-90)" font-size="16.8">C(t)</text>
<text x="396.6" y="36.0" font-size="17" textLength="24.6" lengthAdjust="spacingAndGlyphs" style="fill:#f00;stroke:#f00">EC</text>
<text x="337.0" y="73.7" font-size="17" textLength="40" lengthAdjust="spacingAndGlyphs" style="fill:#00f;stroke:#00f">DMC</text>
</g>
<g id="panel-b">
<rect x="53.95" y="358.45" width="391.95" height="282.95" fill="none" stroke="#000" stroke-width="0.75"/>
<path d="M86.5 641.4v-8M86.5 358.45v8M151.76 641.4v-8M151.76 358.45v8M217.02 641.4v-8M217.02 358.45v8M282.28 641.4v-8M282.28 358.45v8M347.54 641.4v-8M347.54 358.45v8M412.8 641.4v-8M412.8 358.45v8M119.13 641.4v-4M119.13 358.45v4M184.39 641.4v-4M184.39 358.45v4M249.65 641.4v-4M249.65 358.45v4M314.91 641.4v-4M314.91 358.45v4M380.17 641.4v-4M380.17 358.45v4M53.95 570.74h8M445.9 570.74h-8M53.95 499.98h8M445.9 499.98h-8M53.95 429.22h8M445.9 429.22h-8M53.95 606.12h4M445.9 606.12h-4M53.95 535.36h4M445.9 535.36h-4M53.95 464.6h4M445.9 464.6h-4M53.95 393.84h4M445.9 393.84h-4" fill="none" stroke="#000" stroke-width="0.75"/>
<text x="87" y="658.1" font-size="16.5" text-anchor="middle">10</text>
<text x="152.26" y="658.1" font-size="16.5" text-anchor="middle">20</text>
<text x="217.52" y="658.1" font-size="16.5" text-anchor="middle">30</text>
<text x="282.78" y="658.1" font-size="16.5" text-anchor="middle">40</text>
<text x="348.04" y="658.1" font-size="16.5" text-anchor="middle">50</text>
<text x="413.3" y="658.1" font-size="16.5" text-anchor="middle">60</text>
<text x="50.1" y="647.4" font-size="16.6" text-anchor="end">1.8</text>
<text x="50.1" y="576.64" font-size="16.6" text-anchor="end">2.1</text>
<text x="50.1" y="505.88" font-size="16.6" text-anchor="end">2.4</text>
<text x="50.1" y="435.12" font-size="16.6" text-anchor="end">2.7</text>
<text x="50.1" y="364.36" font-size="16.6" text-anchor="end">3</text>
<path d="M86.5 484V515.6M76.5 484h20M76.5 515.6h20M152 522.1V547.3M142 522.1h20M142 547.3h20M217.1 543V572.3M207.1 543h20M207.1 572.3h20M282.4 523.8V562.4M272.4 523.8h20M272.4 562.4h20M347.7 491.3V545M337.7 491.3h20M337.7 545h20M413 435.3V492.2M403 435.3h20M403 492.2h20" fill="none" stroke="#000" stroke-width="1"/>
<polyline points="86.5,499.8 152,534.8 217.1,557.9 282.4,543.3 347.7,518.5 413,463.7" fill="none" stroke="#000" stroke-width="1.6"/>
<rect x="80.2" y="493.5" width="12.6" height="12.6" fill="#000"/>
<rect x="145.7" y="528.5" width="12.6" height="12.6" fill="#000"/>
<rect x="210.8" y="551.6" width="12.6" height="12.6" fill="#000"/>
<rect x="276.1" y="537" width="12.6" height="12.6" fill="#000"/>
<rect x="341.4" y="512.2" width="12.6" height="12.6" fill="#000"/>
<rect x="406.7" y="457.4" width="12.6" height="12.6" fill="#000"/>
<text x="77.2" y="396.8" font-size="29" textLength="107" lengthAdjust="spacingAndGlyphs">(b) DMC</text>
<text transform="translate(15.4,528.3) rotate(-90)" font-size="20"><tspan x="1.0" font-size="17.5" style="font-family:'Liberation Serif',serif">τ</tspan><tspan x="7.9" font-size="14.4" dy="7.6">C</tspan><tspan dy="-7.6"> (ns)</tspan></text>
<text x="203.0" y="676.5" font-size="20"><tspan font-size="19" stroke="#000" stroke-width="0.3" style="font-family:'Liberation Serif',serif">χ</tspan><tspan x="212.3" font-size="14.4" dy="7.8">EC</tspan><tspan dy="-7.6" dx="0.7" font-size="19.6"> (vol %)</tspan></text>
</g>
</svg></body></html>
